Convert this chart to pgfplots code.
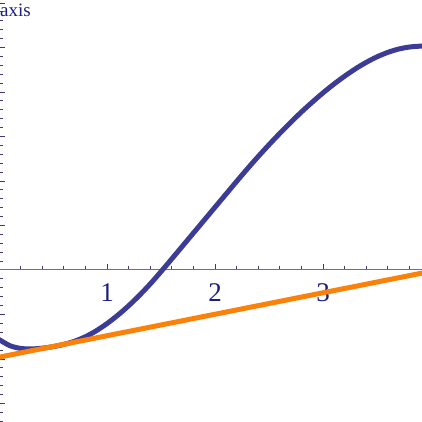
\documentclass[border=0pt]{standalone}
\usepackage{fontspec}
\setmainfont{Liberation Serif}
\usepackage{pgfplots}
\pgfplotsset{compat=1.18}
\definecolor{curveblue}{RGB}{60,60,150}
\definecolor{lineorange}{RGB}{250,130,10}
\definecolor{axisblue}{RGB}{100,100,215}
\definecolor{tickdark}{RGB}{60,60,120}
\definecolor{labelnavy}{RGB}{30,30,130}
\begin{document}
\begin{tikzpicture}
\useasboundingbox (0,0) rectangle (422pt,422pt);
\clip (0,0) rectangle (422pt,422pt);
\begin{axis}[
  /pgf/number format/assume math mode=true,
  scale only axis,
  width=475.2pt, height=467.25pt,
  at={(-22.6pt,-26pt)}, anchor=south west,
  xmin=-0.2, xmax=4.2,
  ymin=-4, ymax=6.5,
  axis lines=middle,
  axis line style={-, draw=axisblue, line width=1pt},
  tick align=inside,
  major tick length=6pt,
  minor tick length=3.5pt,
  tick style={draw=tickdark, line width=0.8pt},
  xtick={0,1,2,3,4},
  xticklabels={{},1,2,3,{}},
  minor x tick num=4,
  ytick={-4,-3,-2,-1,0,1,2,3,4,5,6},
  minor y tick num=4,
  yticklabels={},
  xticklabel style={anchor=north, inner sep=0pt, yshift=-13pt,
    text=labelnavy, font=\fontspec{Liberation Serif}\fontsize{27}{27}\selectfont},
  clip=false,
]
\addplot[color=curveblue, line width=5pt, smooth] coordinates {
  (0,-1.56)(0.1,-1.70)(0.2,-1.762)(0.3,-1.774)(0.4,-1.757)(0.5,-1.723)
  (0.6,-1.672)(0.7,-1.601)(0.8,-1.50)(0.9,-1.367)(1.0,-1.204)(1.1,-1.016)
  (1.2,-0.804)(1.3,-0.570)(1.4,-0.314)(1.5,-0.037)(1.6,0.25)(1.7,0.54)
  (1.8,0.83)(1.9,1.12)(2.0,1.41)(2.1,1.70)(2.2,1.99)(2.3,2.275)(2.4,2.55)
  (2.5,2.815)(2.6,3.07)(2.7,3.315)(2.8,3.55)(2.9,3.77)(3.0,3.98)(3.1,4.175)
  (3.2,4.355)(3.3,4.52)(3.4,4.665)(3.5,4.79)(3.6,4.89)(3.7,4.965)(3.8,5.01)
  (3.9,5.03)(4.0,5.035)
};
\addplot[color=lineorange, line width=5pt] coordinates {
  (-0.1,-2.008)(4.1,0.019)
};
\end{axis}
\node[anchor=base west, inner sep=0pt, text=labelnavy,
  font=\fontspec{Liberation Serif}\fontsize{19}{19}\selectfont] at (0pt,405pt) {axis};
\end{tikzpicture}
\end{document}
